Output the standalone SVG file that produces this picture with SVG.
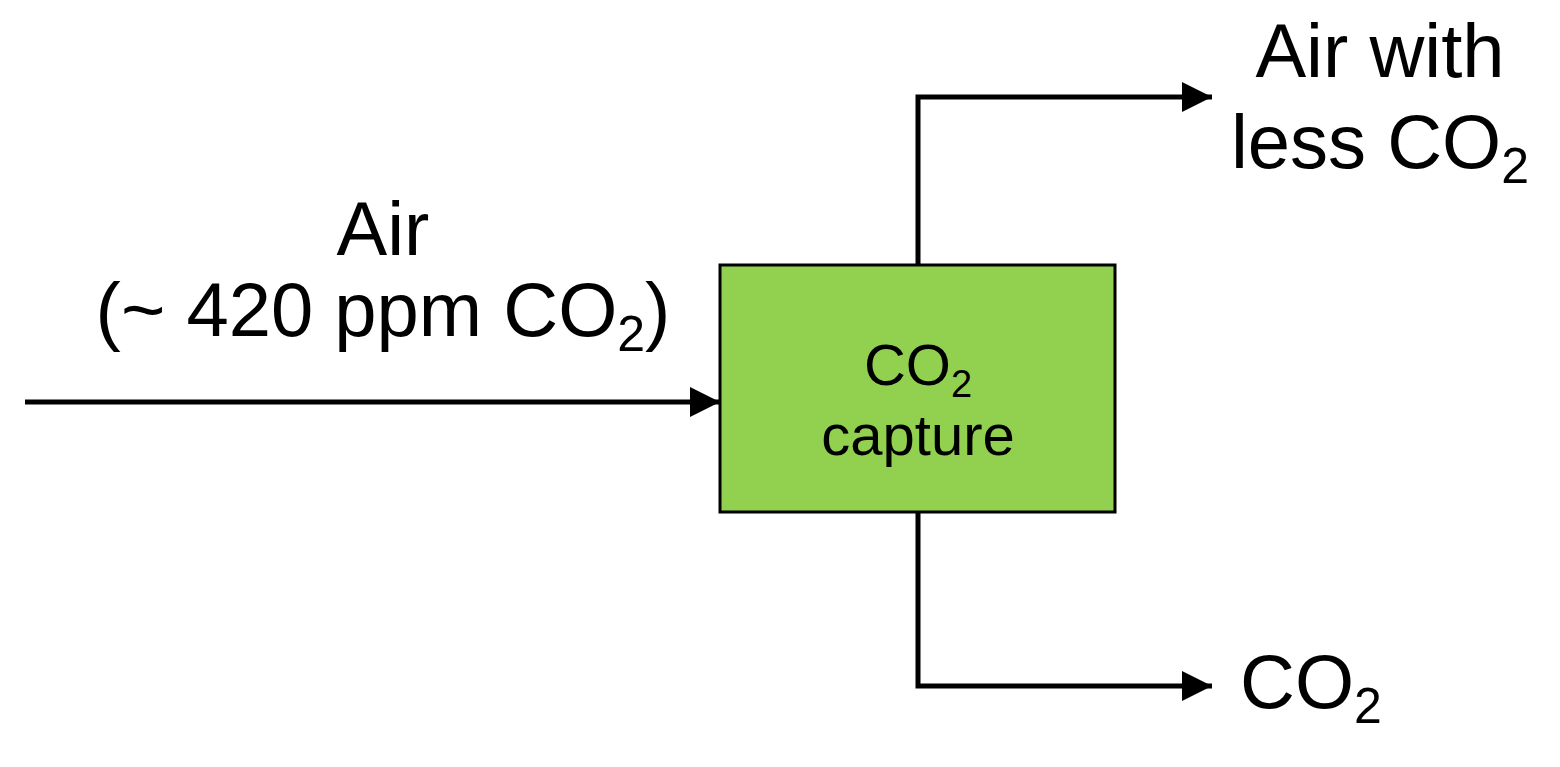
<svg xmlns="http://www.w3.org/2000/svg" width="1560" height="767" viewBox="0 0 1560 767">
<style>
text{font-family:"Liberation Sans",Arial,sans-serif;fill:#000}
.big{font-size:76px}
.box{font-size:58px}
.ln{fill:none;stroke:#000;stroke-width:5}
</style>
<defs>
<marker id="a" viewBox="0 0 30 30" refX="30" refY="15" markerWidth="30" markerHeight="30" markerUnits="userSpaceOnUse" orient="auto"><path d="M0,0L30,15L0,30z" fill="#000"/></marker></defs>
<rect width="1560" height="767" fill="#fff"/>
<g id="connectors">
<path class="ln" d="M25,402H720" marker-end="url(#a)"/>
<path class="ln" d="M918,265V97H1212" marker-end="url(#a)"/>
<path class="ln" d="M918,512V686H1212" marker-end="url(#a)"/>
</g>
<g id="capture">
<rect x="720" y="265" width="395" height="247" fill="#92d050" stroke="#000" stroke-width="3"/>
<text class="box" x="918" y="385" text-anchor="middle">CO<tspan font-size="38" dy="12">2</tspan></text>
<text class="box" x="918" y="455" text-anchor="middle">capture</text>
</g>
<g id="air-in">
<text class="big" x="383" y="255" text-anchor="middle">Air</text>
<text class="big" x="383" y="336" text-anchor="middle">(~ 420 ppm CO<tspan font-size="50" dy="15">2</tspan><tspan dy="-15">)</tspan></text>
</g>
<g id="air-out">
<text class="big" x="1380" y="77" text-anchor="middle">Air with</text>
<text class="big" x="1380" y="168" text-anchor="middle">less CO<tspan font-size="50" dy="15">2</tspan></text>
</g>
<g id="co2-out">
<text class="big" x="1240" y="708">CO<tspan font-size="50" dy="15">2</tspan></text>
</g>
</svg>
